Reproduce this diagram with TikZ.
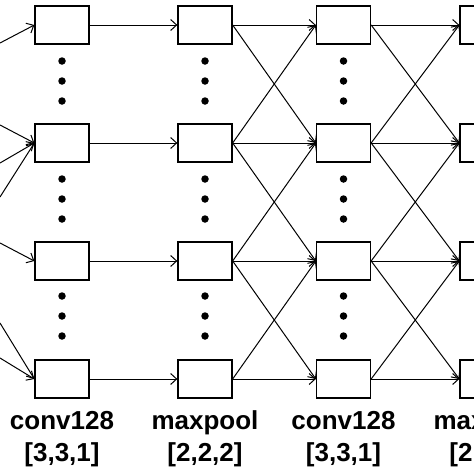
\documentclass[tikz,border=0pt]{standalone}
\usepackage{fontspec}
\setmainfont{Liberation Sans}
\usetikzlibrary{arrows.meta}
\begin{document}
\begin{tikzpicture}[x=1pt,y=-1pt,
  cell/.style={draw, line width=1.3pt, minimum width=54pt, minimum height=38pt, inner sep=0pt},
  conn/.style={line width=1pt, -{Straight Barb[length=6pt,width=11pt,line width=1pt]}},
  dotmark/.style={circle, fill, inner sep=0pt, minimum size=7.5pt},
  lbl/.style={font=\fontsize{26}{26}\selectfont\bfseries, inner sep=0pt, anchor=base}]
\useasboundingbox (0,0) rectangle (474,474);
\clip (0,0) rectangle (474,474);
% boxes
\foreach \c/\x in {1/62,2/205,3/343.5,4/487}{
  \foreach \r/\y in {1/25,2/143,3/261,4/379}{
    \node[cell] (n\c\r) at (\x,\y) {};
  }
}
% dots
\foreach \c/\x in {1/62,2/205,3/343.5}{
  \foreach \g/\y in {1/81,2/199,3/316}{
    \node[dotmark] (d\c\g a) at (\x,\y-20) {};
    \node[dotmark] (d\c\g b) at (\x,\y) {};
    \node[dotmark] (d\c\g c) at (\x,\y+20) {};
  }
}
% incoming free ends
\coordinate (l1) at (0,43);
\coordinate (l2a) at (0,125);
\coordinate (l2b) at (0,163);
\coordinate (l2c) at (0,197);
\coordinate (l3) at (0,243);
\coordinate (l4a) at (0,323);
\coordinate (l4b) at (0,358);
\draw[conn] (l1) -- (n11.west);
\draw[conn] (l2a) -- (n12.west);
\draw[conn] (l2b) -- (n12.west);
\draw[conn] (l2c) -- (n12.west);
\draw[conn] (l3) -- (n13.west);
\draw[conn] (l4a) -- (n14.west);
\draw[conn] (l4b) -- (n14.west);
% col1 -> col2
\foreach \r in {1,2,3,4}{
  \draw[conn] (n1\r.east) -- (n2\r.west);
}
% col2 -> col3 and col3 -> col4
\foreach \a/\b in {2/3,3/4}{
  \foreach \r in {1,2,3,4}{
    \draw[conn] (n\a\r.east) -- (n\b\r.west);
  }
  \foreach \r/\s in {1/2,2/3,3/4}{
    \draw[conn] (n\a\r.east) -- (n\b\s.west);
    \draw[conn] (n\a\s.east) -- (n\b\r.west);
  }
}
% labels
\foreach \c/\x/\t/\p in {1/62/conv128/{[3,3,1]},2/205/maxpool/{[2,2,2]},3/343.5/conv128/{[3,3,1]},4/487/maxpool/{[2,2,2]}}{
  \node[lbl] (t\c) at (\x,429) {\t};
  \node[lbl] (p\c) at (\x,461) {\p};
}
\end{tikzpicture}
\end{document}
